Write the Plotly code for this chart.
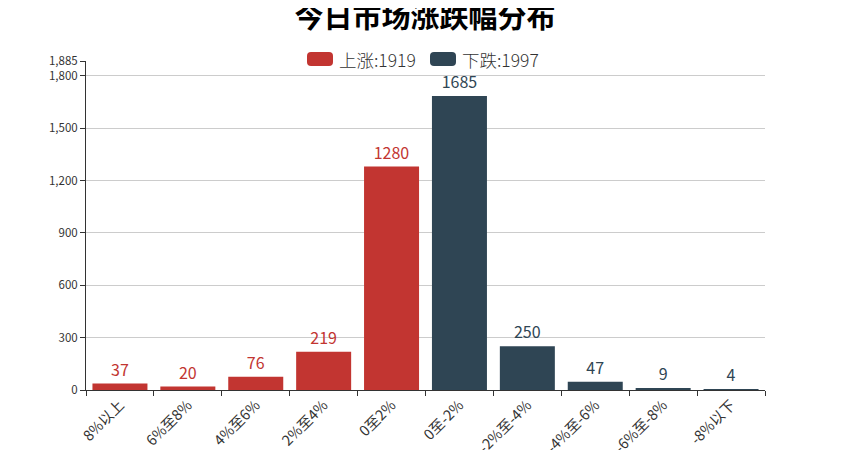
import plotly.graph_objects as go

categories = ["8%以上", "6%至8%", "4%至6%", "2%至4%", "0至2%",
              "0至-2%", "-2%至-4%", "-4%至-6%", "-6%至-8%", "-8%以下"]
up_values = [37, 20, 76, 219, 1280, None, None, None, None, None]
down_values = [None, None, None, None, None, 1685, 250, 47, 9, 4]
up_name = "上涨:1919"
down_name = "下跌:1997"
title_text = "今日市场涨跌幅分布"
y_max = 1885
y_ticks = [0, 300, 600, 900, 1200, 1500, 1800, 1885]

RED = "#c23531"
DARK = "#2f4554"
FONT = "Noto Sans CJK SC"

# page body has an 8px margin; size figure so it ends at the window edge
OFF = 8
W, H = 850 - OFF, 450 - OFF
L, R, T, B = 86 - OFF, 85, 61 - OFF, 60
PW, PH = W - L - R, H - T - B

fig = go.Figure()
for vals, name, color in [(up_values, up_name, RED), (down_values, down_name, DARK)]:
    fig.add_trace(go.Bar(
        x=categories, y=vals, name=name,
        marker=dict(color=color, line=dict(width=0)),
        text=[str(v) if v is not None else "" for v in vals],
        textposition="outside", cliponaxis=False,
        textfont=dict(color=color, size=16, family=FONT),
        width=0.81, showlegend=False,
    ))

def px(x):
    return (x - OFF - L) / PW
def py(y):
    return (H - B - (y - OFF)) / PH

def rrect(x0, y0, x1, y1, r=4):
    X0, X1, Y0, Y1 = px(x0), px(x1), py(y0), py(y1)
    rx, ry = r / PW, r / PH
    return (f"M {X0+rx},{Y0} L {X1-rx},{Y0} Q {X1},{Y0} {X1},{Y0-ry} "
            f"L {X1},{Y1+ry} Q {X1},{Y1} {X1-rx},{Y1} L {X0+rx},{Y1} "
            f"Q {X0},{Y1} {X0},{Y1+ry} L {X0},{Y0-ry} Q {X0},{Y0} {X0+rx},{Y0} Z")

legend_items = [(up_name, RED, 307, 333, 337), (down_name, DARK, 430, 456, 460)]
shapes = []
annotations = []
for name, color, sx0, sx1, tx in legend_items:
    shapes.append(dict(type="path", xref="paper", yref="paper",
                       path=rrect(sx0, 52, sx1, 66), fillcolor=color,
                       line=dict(width=0), layer="above"))
    annotations.append(dict(text=name, xref="paper", yref="paper",
                            x=px(tx), y=py(59), xanchor="left", yanchor="middle",
                            showarrow=False,
                            font=dict(size=17.5, color="#333", family=FONT, weight=300)))

fig.update_layout(
    width=W, height=H,
    margin=dict(l=L, r=R, t=T, b=B, autoexpand=False),
    paper_bgcolor="white", plot_bgcolor="white",
    barmode="overlay",
    font=dict(family=FONT, color="#333"),
    title=dict(text="<b>" + title_text + "</b>", x=(425 - OFF) / W, xanchor="center",
               xref="container", yref="container", y=1 - (18 - OFF) / H, yanchor="middle",
               font=dict(size=29, color="#000", family=FONT)),
    showlegend=False,
    shapes=shapes,
    annotations=annotations,
)
fig.update_xaxes(
    type="category", categoryorder="array", categoryarray=categories,
    showline=True, linecolor="#333", linewidth=1,
    ticks="outside", tickson="boundaries", ticklen=5, tickcolor="#333",
    tickangle=-45, tickfont=dict(size=14.5, color="#333", family=FONT),
    showgrid=False, automargin=False,
)
fig.update_yaxes(
    range=[0, y_max], tickvals=y_ticks,
    ticktext=[f"{v:,}" for v in y_ticks],
    showline=True, linecolor="#333", linewidth=1,
    ticks="outside", ticklen=5, tickcolor="#333",
    tickfont=dict(size=11.5, color="#333", family=FONT),
    showgrid=True, gridcolor="#ccc", gridwidth=1, zeroline=False,
    automargin=False,
)

fig.write_html("out.html")
